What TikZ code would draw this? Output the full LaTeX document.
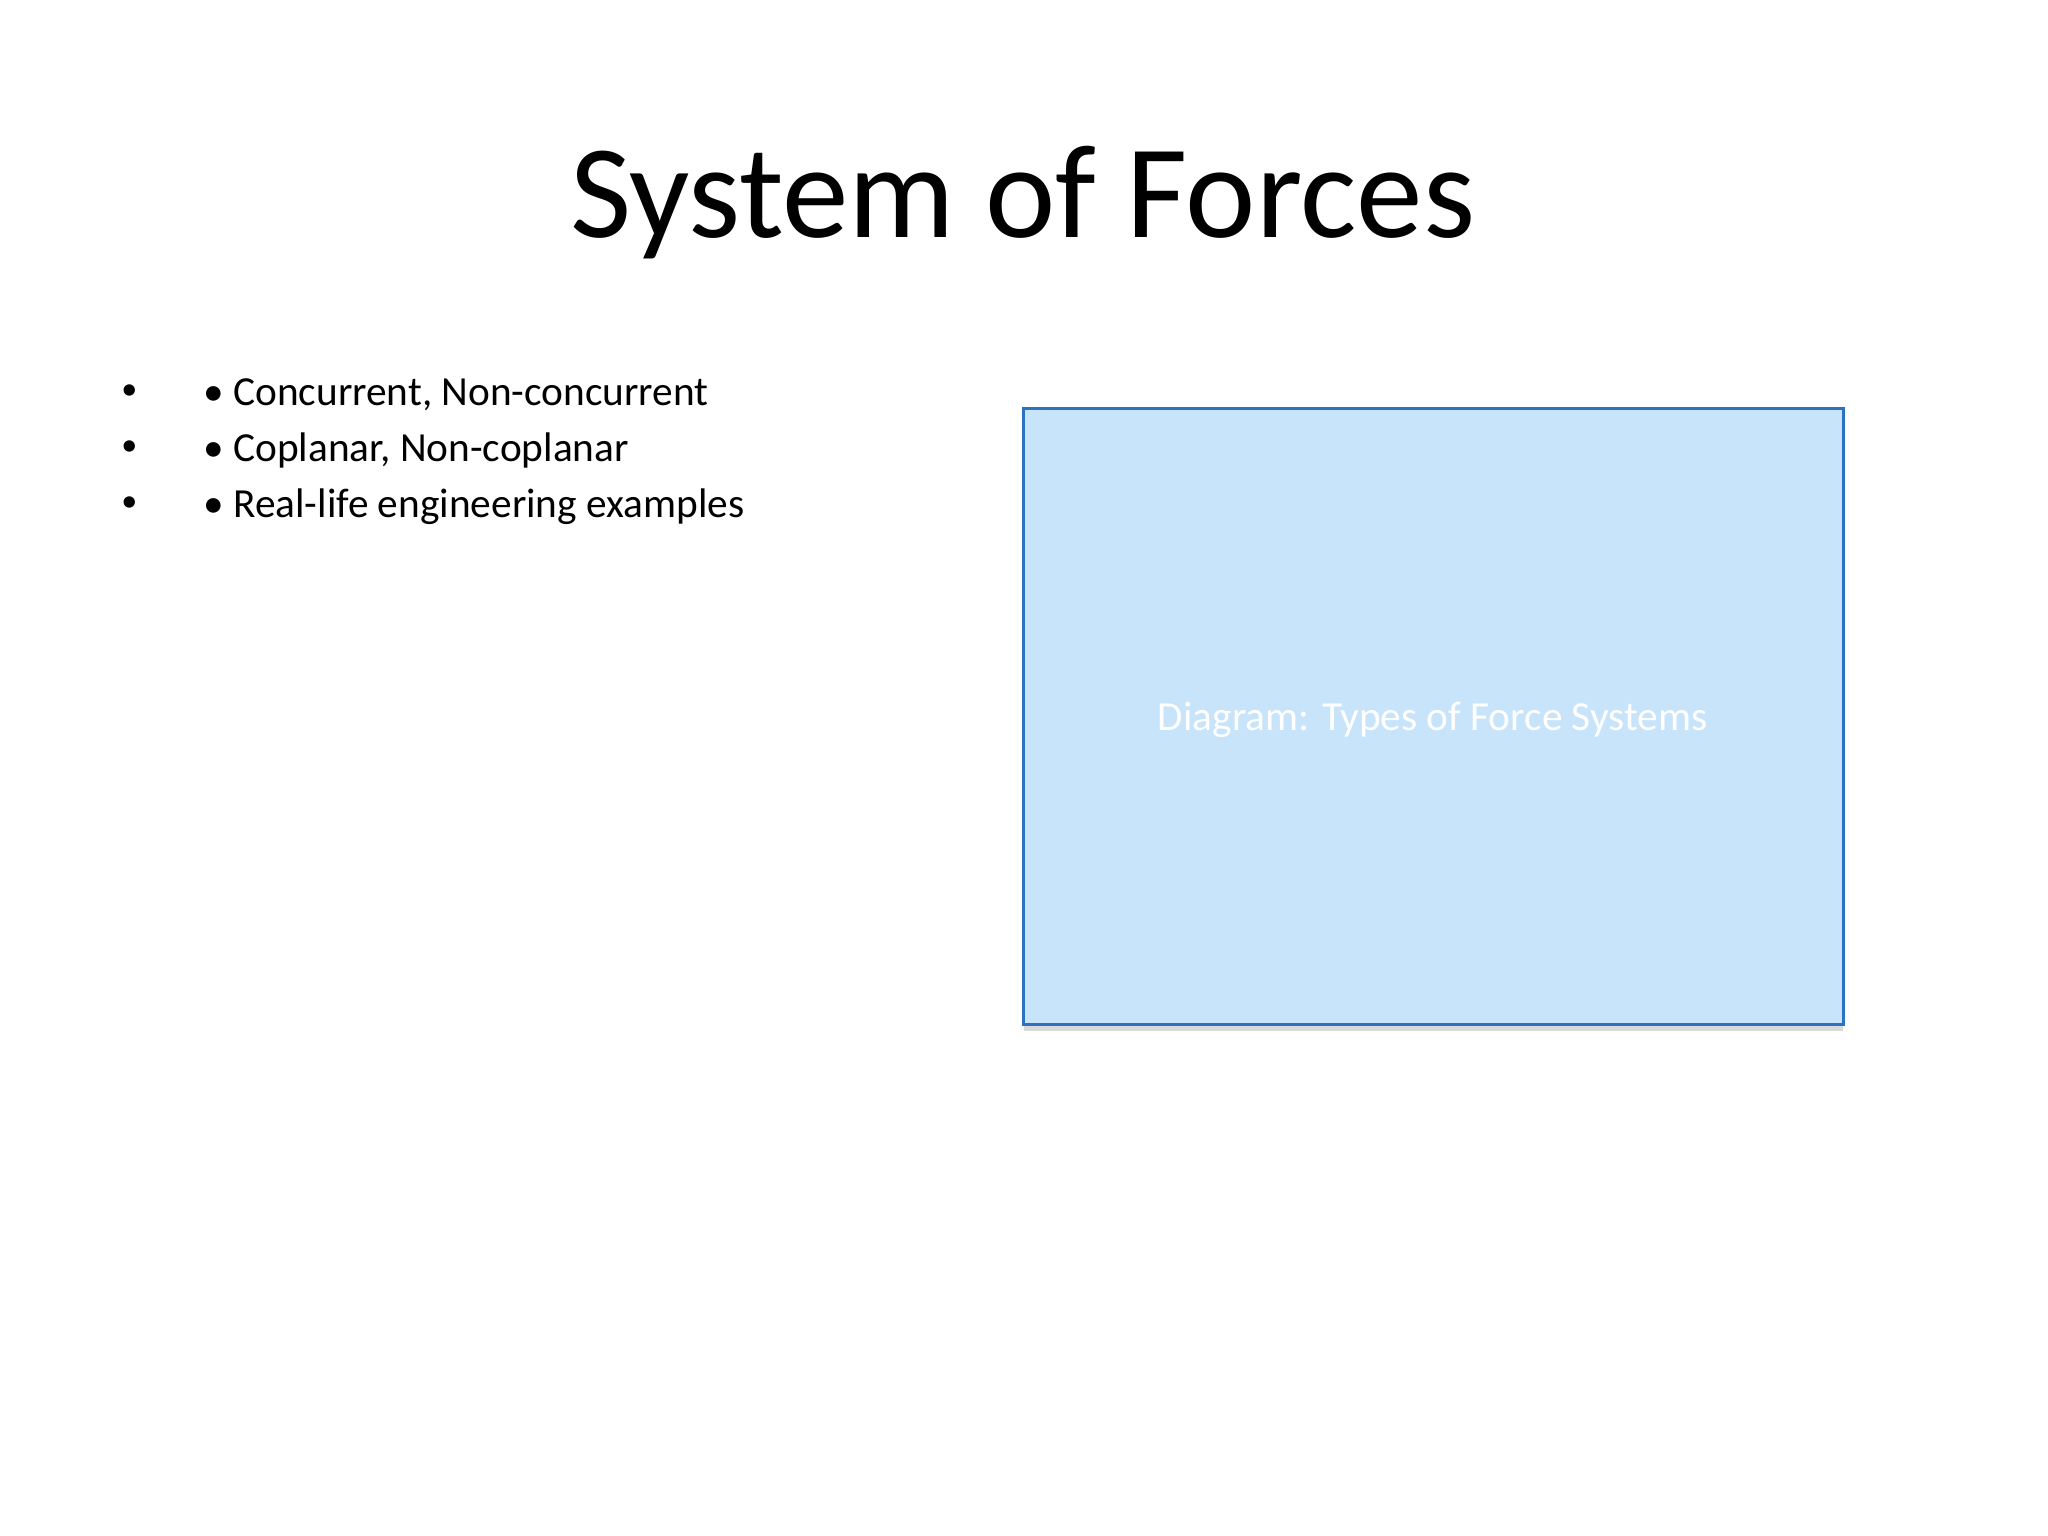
\documentclass[tikz,border=0pt]{standalone}
\usepackage{fontspec}
\setmainfont{Carlito}
\usetikzlibrary{shadows}
\definecolor{boxfill}{HTML}{C8E4FA}
\definecolor{boxline}{HTML}{2B73C2}
\tikzset{bul/.style={anchor=west,inner sep=0pt,font=\fontsize{9}{10}\selectfont},
 dot/.style={inner sep=0pt,font=\fontsize{7}{8}\selectfont}}
\begin{document}
\begin{tikzpicture}[x=0.01cm,y=-0.01cm]
\useasboundingbox (0,0) rectangle (1568,1176);
\node (title) at (783,155) {\fontsize{29}{34}\selectfont System of Forces};
\foreach \y/\t [count=\i] in {302/{• Concurrent, Non-concurrent},345/{• Coplanar, Non-coplanar},388/{• Real-life engineering examples}}{
  \node[dot] (d\i) at (99,\y-2) {•};
  \node[bul] (b\i) at (155,\y) {\t};
}
\node[draw=boxline,line width=0.6pt,fill=boxfill,minimum width=6.27cm,minimum height=4.71cm,inner sep=0pt,
  drop shadow={shadow xshift=0pt,shadow yshift=-0.05cm,opacity=0.3}] (box) at (1097.5,548.5) {};
\node[text=white,font=\fontsize{9}{10}\selectfont] (lbl) at (1097,551) {Diagram: Types of Force Systems};
\end{tikzpicture}
\end{document}
